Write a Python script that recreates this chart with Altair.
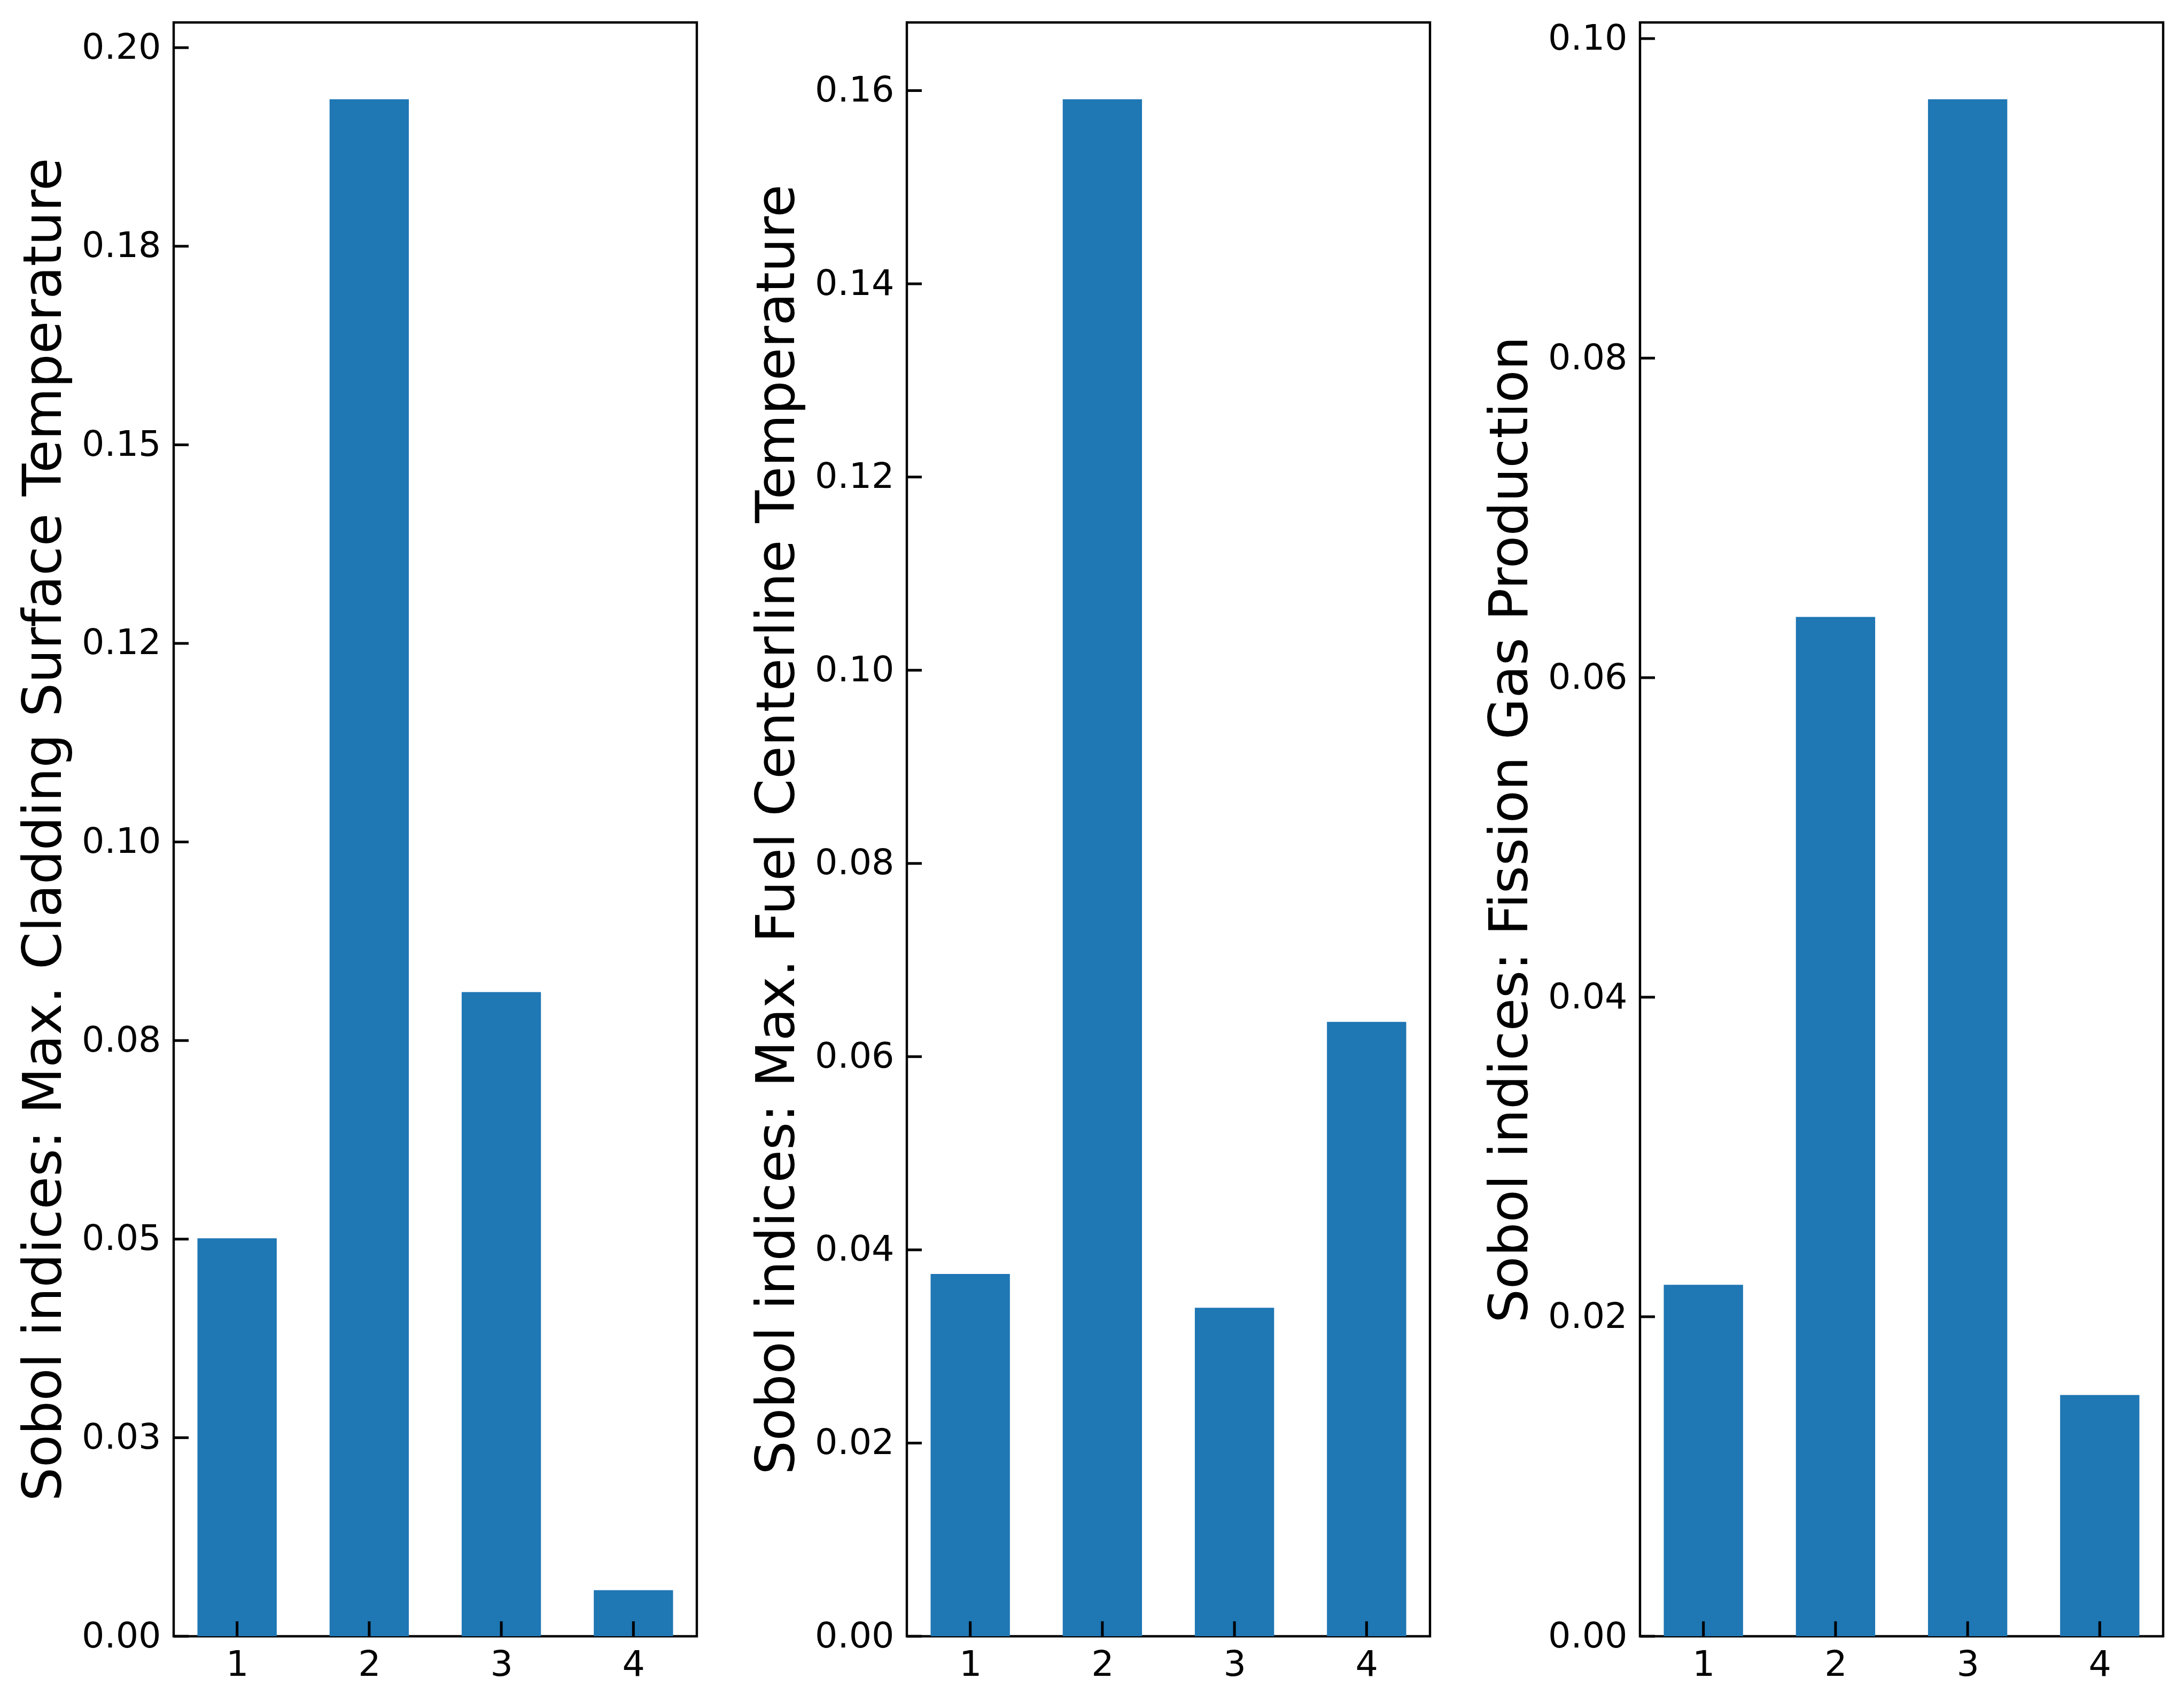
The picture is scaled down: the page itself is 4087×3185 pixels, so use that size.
import json
import altair as alt
import pandas as pd

# ---- data ----
params = [1, 2, 3, 4]
clad_vals = [0.0501, 0.1935, 0.0811, 0.0058]
fuel_vals = [0.0375, 0.1591, 0.0340, 0.0636]
fgr_vals = [0.0220, 0.0638, 0.0962, 0.0151]

titles = [
    "Sobol indices: Max. Cladding Surface Temperature",
    "Sobol indices: Max. Fuel Centerline Temperature",
    "Sobol indices: Fission Gas Production",
]

clad_ticks = [0.0, 0.025, 0.05, 0.075, 0.1, 0.125, 0.15, 0.175, 0.2]
clad_tick_labels = ["0.00", "0.03", "0.05", "0.08", "0.10", "0.12", "0.15", "0.18", "0.20"]
fuel_ticks = [0.0, 0.02, 0.04, 0.06, 0.08, 0.1, 0.12, 0.14, 0.16]
fuel_tick_labels = ["0.00", "0.02", "0.04", "0.06", "0.08", "0.10", "0.12", "0.14", "0.16"]
fgr_ticks = [0.0, 0.02, 0.04, 0.06, 0.08, 0.1]
fgr_tick_labels = ["0.00", "0.02", "0.04", "0.06", "0.08", "0.10"]
x_ticks = [1, 2, 3, 4]

# ---- layout / style ----
W, H = 979, 3020
TICK = 28
BAR_COLOR = "#1f77b4"
FONT = "DejaVu Sans"


def panel(vals, title, ticks, labels):
    df = pd.DataFrame({"p": params, "v": vals})
    df["x0"] = df["p"] - 0.3
    df["x1"] = df["p"] + 0.3
    ymax = max(vals) * 1.05
    xs = alt.Scale(domain=[0.52, 4.48], nice=False, zero=False)
    ys = alt.Scale(domain=[0, ymax], nice=False, zero=False)
    label_expr = (
        json.dumps(labels).replace('"', "'")
        + "[indexof("
        + json.dumps(ticks)
        + ", datum.value)]"
    )
    yax = alt.Axis(
        title=title,
        values=ticks,
        labelExpr=label_expr,
        labelPadding=24,
        titlePadding=18,
    )
    xax = alt.Axis(title=None, values=x_ticks, format="d", labelPadding=20)

    bars = alt.Chart(df).mark_bar(color=BAR_COLOR).encode(
        x=alt.X("x0:Q", scale=xs, axis=xax),
        x2="x1:Q",
        y=alt.Y("v:Q", scale=ys, axis=yax),
        y2=alt.datum(0),
    )
    ytick_df = pd.DataFrame({"v": ticks})
    yt = alt.Chart(ytick_df).mark_rule(color="black", strokeWidth=5).encode(
        y=alt.Y("v:Q", scale=ys, axis=yax),
        x=alt.value(0),
        x2=alt.value(TICK),
    )
    xtick_df = pd.DataFrame({"x0": x_ticks})
    xt = alt.Chart(xtick_df).mark_rule(color="black", strokeWidth=5).encode(
        x=alt.X("x0:Q", scale=xs, axis=xax),
        y=alt.value(H),
        y2=alt.value(H - TICK),
    )
    return alt.layer(bars, yt, xt).properties(width=W, height=H)


chart = (
    alt.hconcat(
        panel(clad_vals, titles[0], clad_ticks, clad_tick_labels),
        panel(fuel_vals, titles[1], fuel_ticks, fuel_tick_labels),
        panel(fgr_vals, titles[2], fgr_ticks, fgr_tick_labels),
        spacing=96,
    )
    .properties(
        padding={"left": 23, "top": 28, "right": 5, "bottom": 5},
        background="white",
    )
    .configure_view(stroke="black", strokeWidth=4.4)
    .configure_axis(
        domain=False,
        ticks=False,
        tickSize=0,
        grid=False,
        labelFont=FONT,
        labelFontSize=66.7,
        labelColor="black",
        titleFont=FONT,
        titleFontSize=100,
        titleFontWeight="normal",
        titleColor="black",
    )
)

chart.save("out.html", embed_options={"renderer": "svg", "actions": False})
